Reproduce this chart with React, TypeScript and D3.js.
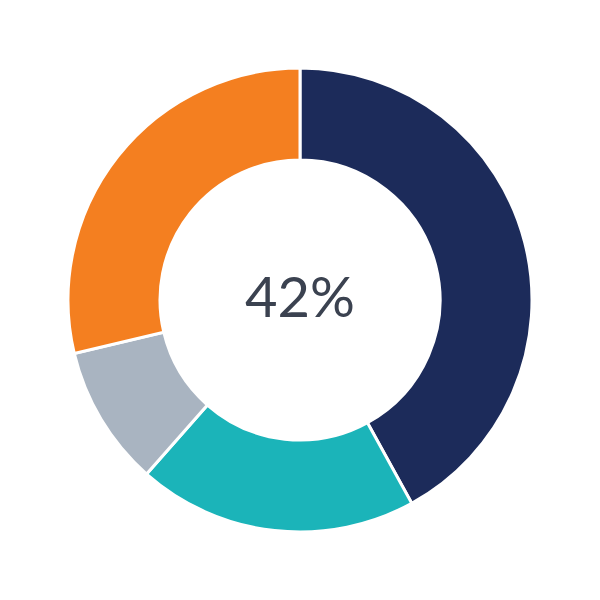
import React from 'react';
import * as d3 from 'd3';

const categories = ['A', 'B', 'C', 'D'];
const values = [42, 19.5, 9.8, 28.7];
const colors = ['#1c2b5a', '#1bb4b9', '#a9b4c1', '#f47f20'];
const centerLabel = '42%';

const App: React.FC = () => {
  const width = 600;
  const height = 600;
  const outerRadius = 232;
  const innerRadius = 140;

  const pie = d3.pie<number>().sort(null).value(d => d);
  const arc = d3.arc<d3.PieArcDatum<number>>().innerRadius(innerRadius).outerRadius(outerRadius);
  const arcs = pie(values);

  return (
    <svg width={width} height={height} style={{ position: 'absolute', left: 0, top: 0 }}>
      <rect width={width} height={height} fill="#fff" />
      <g transform={`translate(${width / 2},${height / 2})`}>
        {arcs.map((a, i) => (
          <path
            key={categories[i]}
            d={arc(a) || ''}
            fill={colors[i]}
            stroke="#fff"
            strokeWidth={3}
          />
        ))}
        <text
          x={0}
          y={-3}
          dy="0.36em"
          textAnchor="middle"
          fill="#3b4250"
          style={{ fontFamily: 'Lato, sans-serif', fontSize: '56px' }}
        >
          {centerLabel}
        </text>
      </g>
    </svg>
  );
};

export default App;
